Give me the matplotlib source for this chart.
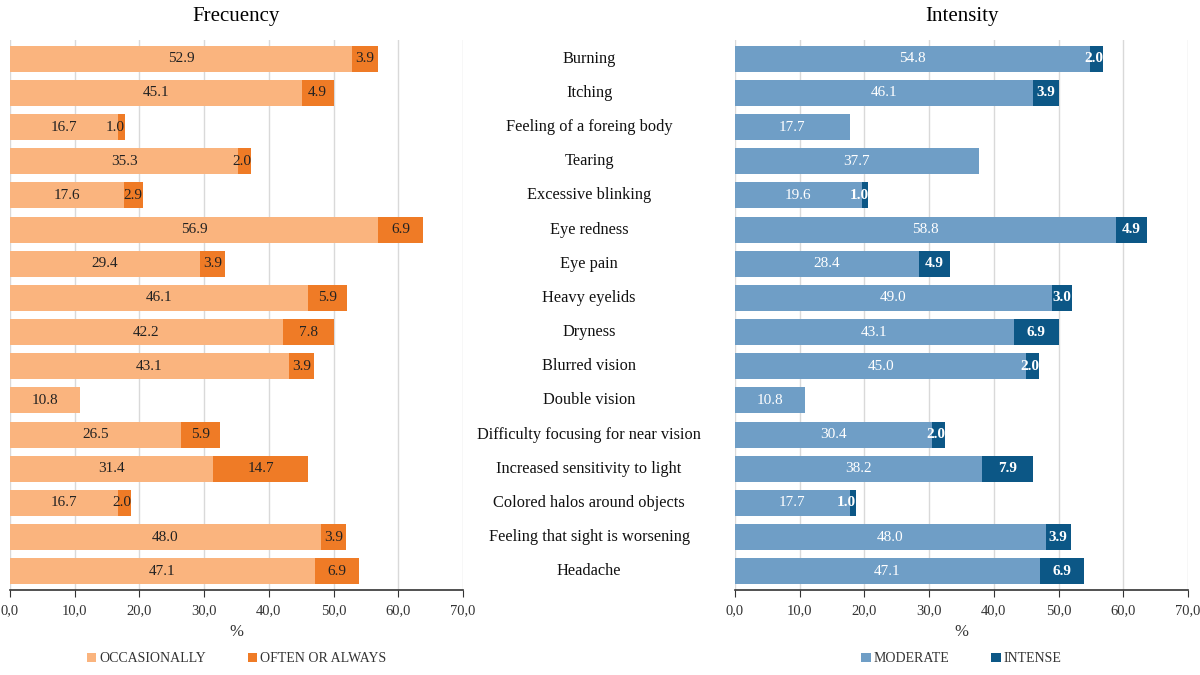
import matplotlib
matplotlib.use("Agg")
import matplotlib.pyplot as plt
from matplotlib.transforms import blended_transform_factory
from matplotlib.ticker import FuncFormatter

plt.rcParams['font.family'] = ['Liberation Serif', 'DejaVu Serif']

symptoms = ["Burning", "Itching", "Feeling of a foreing body", "Tearing",
            "Excessive blinking", "Eye redness", "Eye pain", "Heavy eyelids",
            "Dryness", "Blurred vision", "Double vision",
            "Difficulty focusing for near vision",
            "Increased sensitivity to light", "Colored halos around objects",
            "Feeling that sight is worsening", "Headache"]

occasionally = [52.9, 45.1, 16.7, 35.3, 17.6, 56.9, 29.4, 46.1, 42.2, 43.1,
                10.8, 26.5, 31.4, 16.7, 48.0, 47.1]
often = [3.9, 4.9, 1.0, 2.0, 2.9, 6.9, 3.9, 5.9, 7.8, 3.9,
         0.0, 5.9, 14.7, 2.0, 3.9, 6.9]

moderate = [54.8, 46.1, 17.7, 37.7, 19.6, 58.8, 28.4, 49.0, 43.1, 45.0,
            10.8, 30.4, 38.2, 17.7, 48.0, 47.1]
intense = [2.0, 3.9, 0.0, 0.0, 1.0, 4.9, 4.9, 3.0, 6.9, 2.0,
           0.0, 2.0, 7.9, 1.0, 3.9, 6.9]

c_occ = "#FAB47E"
c_often = "#EF7B26"
c_mod = "#6F9EC6"
c_int = "#0C5786"

fig = plt.figure(figsize=(12, 6.75), dpi=100)
ax1 = fig.add_axes([10 / 1200, 85 / 675, 453 / 1200, 550 / 675])
ax2 = fig.add_axes([735 / 1200, 85 / 675, 453 / 1200, 550 / 675])

pos = list(range(len(symptoms)))
h = 0.76


def seg_label(ax, start, val, color, bold=False):
    if val <= 0:
        return
    weight = "bold" if bold else "normal"
    if val < 2.5:
        ax.text(start + val + 0.05, i, "%.1f" % val, ha="right", va="center",
                color=color, fontsize=11, fontweight=weight)
    else:
        ax.text(start + val / 2, i, "%.1f" % val, ha="center", va="center",
                color=color, fontsize=11, fontweight=weight)


ax1.barh(pos, occasionally, height=h, color=c_occ, label="OCCASIONALLY", zorder=2)
ax1.barh(pos, often, left=occasionally, height=h, color=c_often,
         label="OFTEN OR ALWAYS", zorder=2)
ax2.barh(pos, moderate, height=h, color=c_mod, label="MODERATE", zorder=2)
ax2.barh(pos, intense, left=moderate, height=h, color=c_int, label="INTENSE", zorder=2)

for i in pos:
    seg_label(ax1, 0, occasionally[i], "#222222")
    seg_label(ax1, occasionally[i], often[i], "#222222")
    seg_label(ax2, 0, moderate[i], "white")
    seg_label(ax2, moderate[i], intense[i], "white", bold=True)

trans = blended_transform_factory(ax2.transAxes, ax2.transData)
for i, name in enumerate(symptoms):
    ax2.text(-0.322, i, name, transform=trans, ha="center", va="center",
             fontsize=11.8, color="#111111")

for ax, title in [(ax1, "Frecuency"), (ax2, "Intensity")]:
    ax.set_xlim(0, 70)
    ax.set_ylim(15.55, -0.55)
    ax.set_xticks(range(0, 71, 10))
    ax.xaxis.set_major_formatter(FuncFormatter(lambda v, p: ("%.1f" % v).replace(".", ",")))
    ax.set_yticks([])
    for s in ["top", "right", "left"]:
        ax.spines[s].set_visible(False)
    ax.spines["bottom"].set_color("#333333")
    ax.spines["bottom"].set_linewidth(1.2)
    ax.tick_params(axis="x", direction="out", length=5, color="#333333",
                   labelsize=10.5, labelcolor="#333333", pad=5)
    ax.grid(axis="x", color="#D9D9D9", linewidth=1, zorder=0)
    ax.set_axisbelow(True)
    ax.set_xlabel("%", fontsize=12, labelpad=5, color="#333333")
    ax.set_title(title, fontsize=15, pad=14)
    ax.legend(loc="center", bbox_to_anchor=(0.5, -0.125), ncol=2, frameon=False,
              handlelength=0.7, handleheight=0.7, handletextpad=0.2,
              columnspacing=3.0, fontsize=10, labelcolor="#333333")

fig.savefig("out.png", dpi=100)
